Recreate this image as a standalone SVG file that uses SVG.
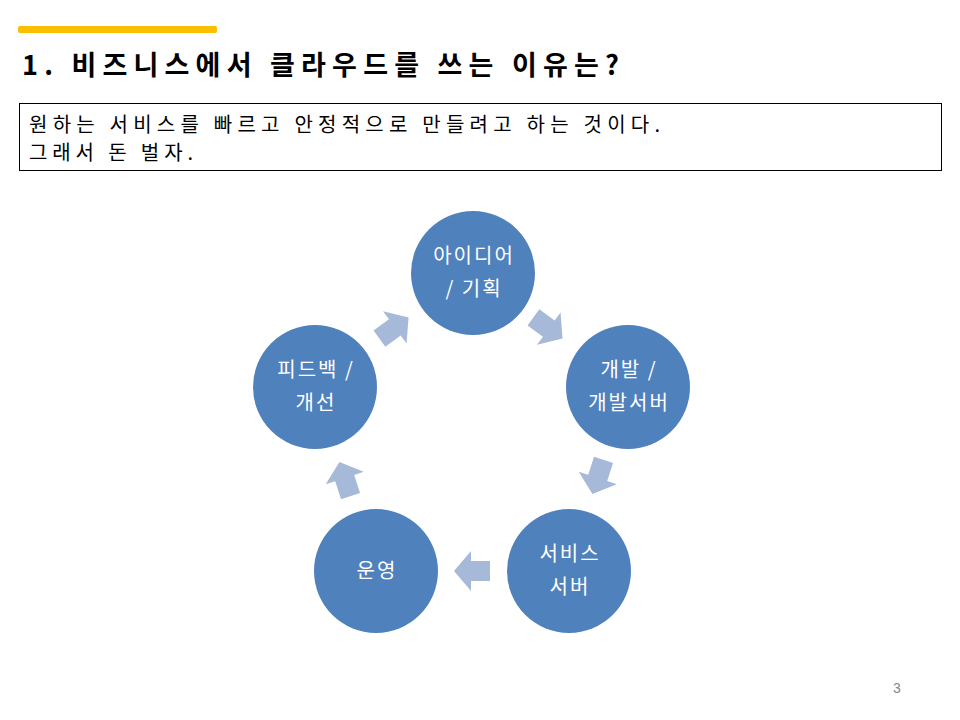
<svg xmlns="http://www.w3.org/2000/svg" width="960" height="720" viewBox="0 0 960 720">
<style>
.n{fill:#4f81bd}
.t{fill:#fff;font-family:"Noto Sans CJK KR","Noto Sans",sans-serif;font-size:20px;letter-spacing:2px;text-anchor:middle}
.a{fill:#a7b9d8}
</style>
<defs><polygon id="ar" points="-18,-10 1,-10 1,-20 18,0 1,20 1,10 -18,10"/></defs>
<rect width="960" height="720" fill="#fff"/>
<rect x="18" y="26" width="199" height="7" fill="#fbbf00" rx="2"/>
<text x="22" y="75" textLength="597" font-family="'Noto Sans CJK KR',sans-serif" font-weight="bold" font-size="27" fill="#000">1. 비즈니스에서 클라우드를 쓰는 이유는?</text>
<rect x="19.5" y="103.5" width="922" height="67" fill="#fff" stroke="#000"/>
<g font-family="'Noto Sans CJK KR',sans-serif" font-size="20" fill="#000"><text x="29" y="132" textLength="631">원하는 서비스를 빠르고 안정적으로 만들려고 하는 것이다.</text><text x="29" y="160" textLength="164">그래서 돈 벌자.</text></g>
<g id="connectors">
<use href="#ar" class="a" transform="translate(548,328) rotate(36)"/>
<use href="#ar" class="a" transform="translate(598,477) rotate(108)"/>
<use href="#ar" class="a" transform="translate(472,571) rotate(180)"/>
<use href="#ar" class="a" transform="translate(345,479) rotate(252)"/>
<use href="#ar" class="a" transform="translate(394,328) rotate(-36)"/>
</g>
<g id="idea"><circle class="n" cx="473" cy="273" r="62"/><text class="t" x="474" y="263">아이디어</text><text class="t" x="474" y="296">/ 기획</text></g>
<g id="dev"><circle class="n" cx="628" cy="387" r="62"/><text class="t" x="629" y="377">개발 /</text><text class="t" x="629" y="410">개발서버</text></g>
<g id="svc"><circle class="n" cx="569" cy="571" r="62"/><text class="t" x="570" y="561">서비스</text><text class="t" x="570" y="594">서버</text></g>
<g id="ops"><circle class="n" cx="376" cy="571" r="62"/><text class="t" x="377" y="578">운영</text></g>
<g id="fb"><circle class="n" cx="315" cy="387" r="62"/><text class="t" x="316" y="377">피드백 /</text><text class="t" x="316" y="410">개선</text></g>
<text x="897" y="693" font-family="'Liberation Sans',sans-serif" font-size="14" fill="#888" text-anchor="middle">3</text>
</svg>
